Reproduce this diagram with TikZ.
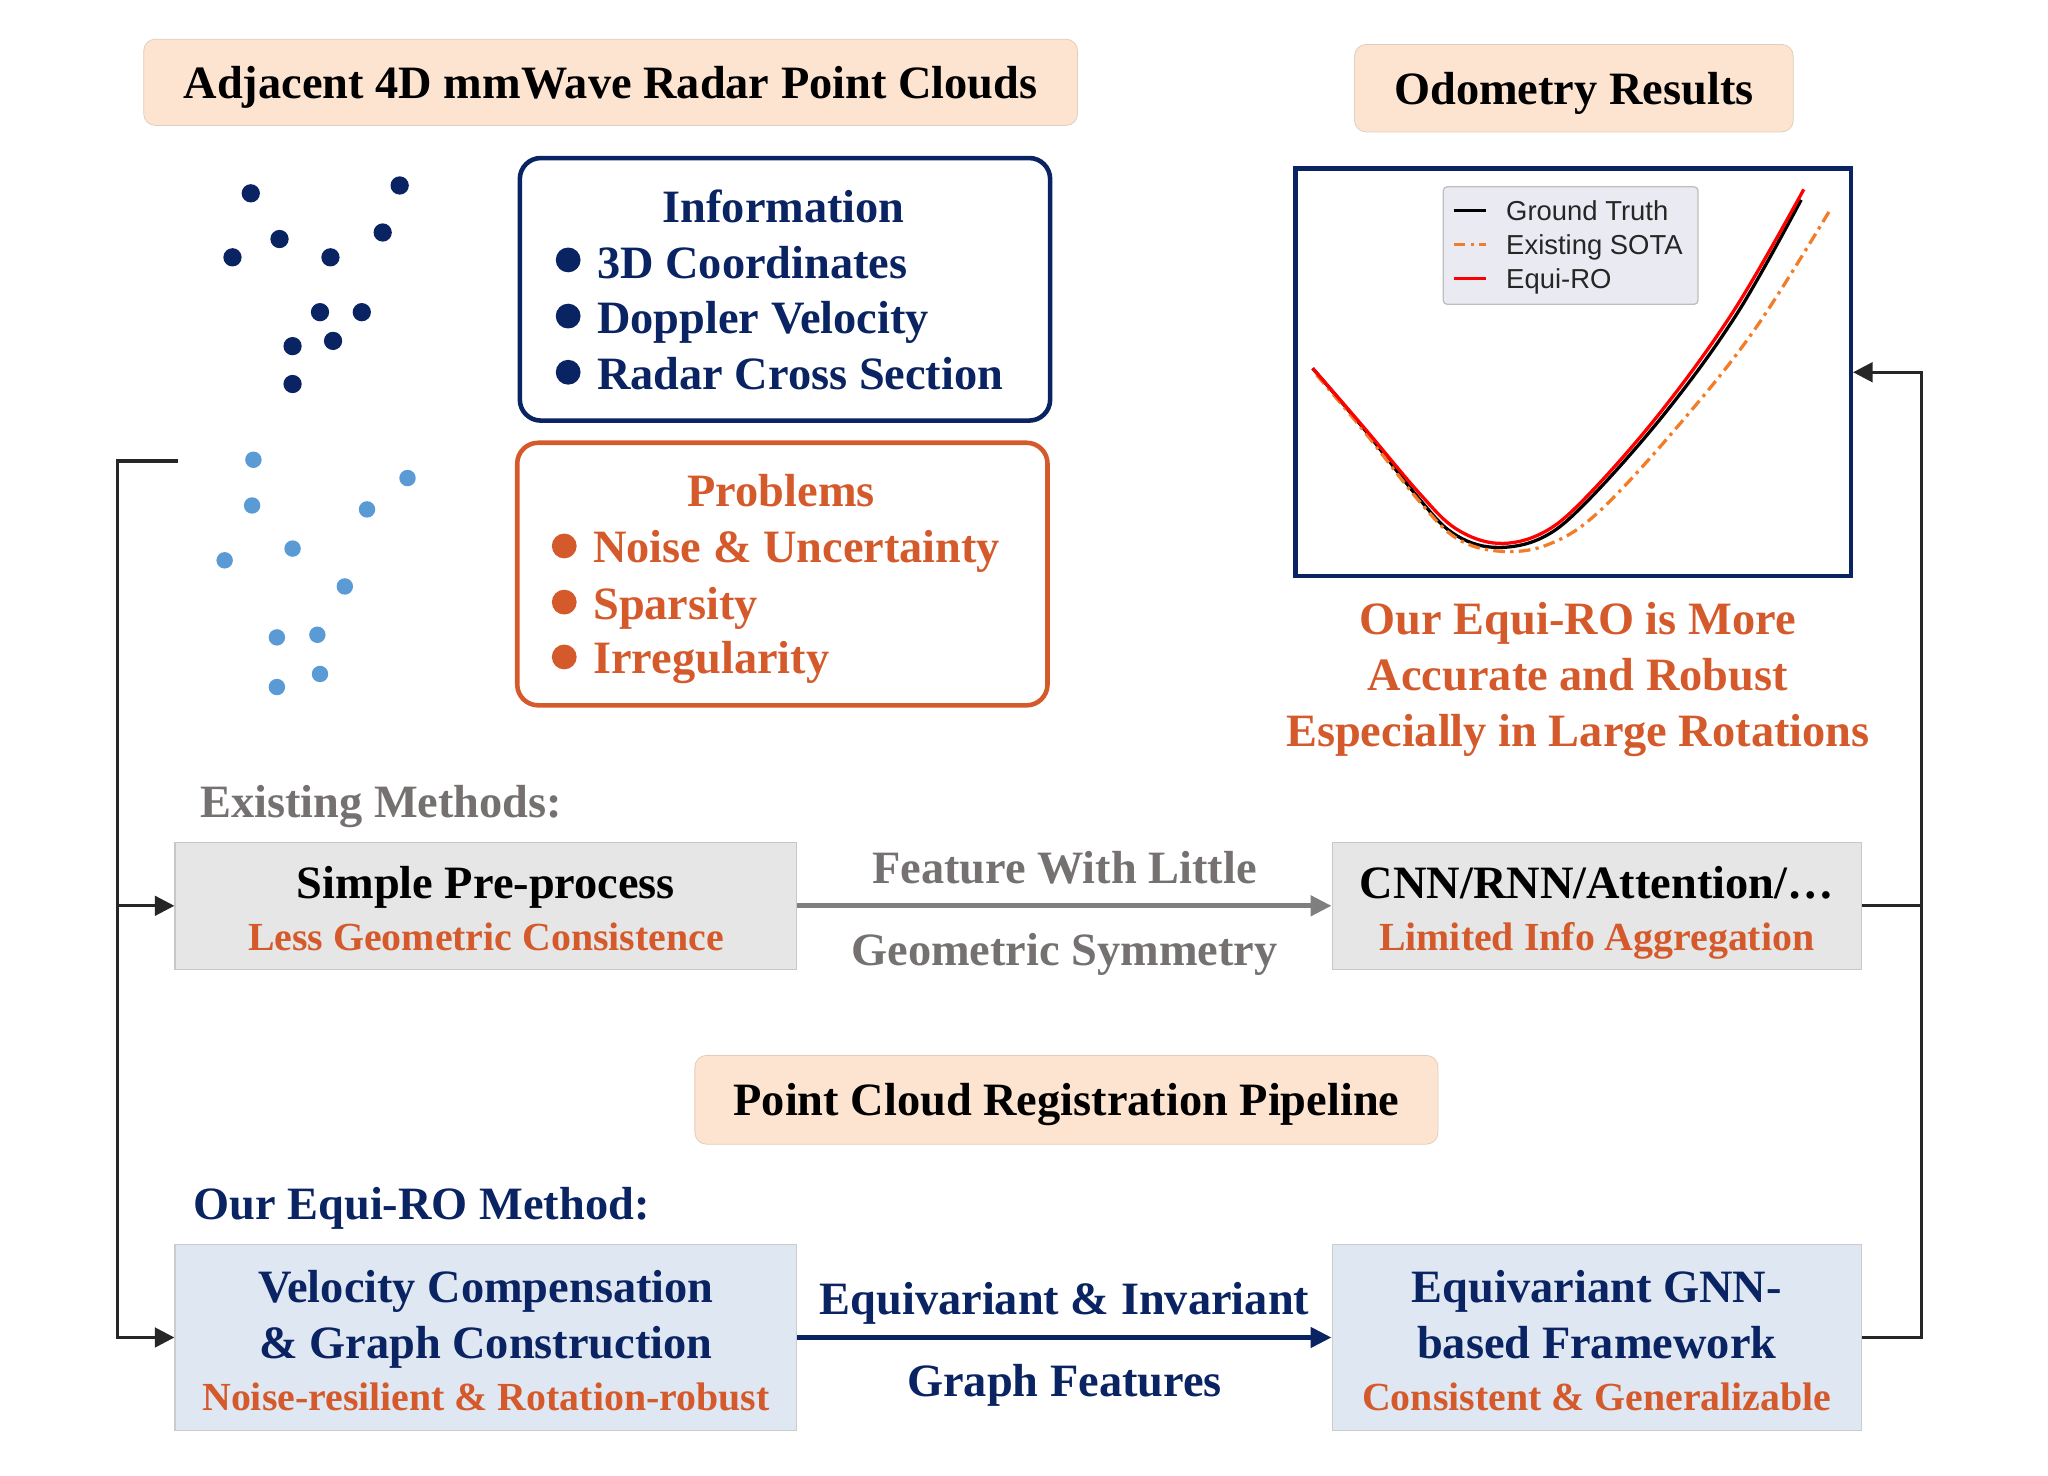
\documentclass[tikz,border=0pt]{standalone}
\usepackage{fontspec}
\setmainfont{Liberation Serif}
\newfontfamily\legendfont{Liberation Sans}
\usetikzlibrary{arrows.meta}

\definecolor{navy}{RGB}{10,36,99}
\definecolor{rust}{RGB}{213,90,43}
\definecolor{peach}{RGB}{252,228,208}
\definecolor{boxgray}{RGB}{230,230,230}
\definecolor{boxblue}{RGB}{223,231,242}
\definecolor{ptblue}{RGB}{91,155,213}
\definecolor{txtgray}{RGB}{118,113,113}
\definecolor{arrowgray}{RGB}{127,127,127}
\definecolor{linegray}{RGB}{38,38,38}
\definecolor{legbg}{RGB}{234,234,242}
\definecolor{sota}{RGB}{242,125,40}

\newcommand{\boxfont}{\fontsize{35.5}{43}\selectfont\bfseries}
\newcommand{\notefont}{\fontsize{30.5}{36}\selectfont\bfseries\color{rust}}
\newcommand{\topstrut}{\rule{0pt}{35.6pt}}

\tikzstyle{peachbox} = [fill=peach, draw=peach!90!black, line width=0.6pt, rounded corners=9pt, text depth=0pt, font=\boxfont]
\tikzstyle{graybox} = [fill=boxgray, draw=black!22, line width=1pt, align=center, font=\boxfont]
\tikzstyle{bluebox} = [fill=boxblue, draw=black!20, line width=1pt, align=center, font=\boxfont, text=navy]
\tikzstyle{listbox} = [line width=3.5pt, rounded corners=16pt]
\tikzstyle{listitem} = [anchor=base west, inner sep=0pt, font=\boxfont]
\tikzstyle{legtext} = [anchor=base west, inner sep=0pt, text=linegray, font=\legendfont\fontsize{21}{25}\selectfont]
\tikzstyle{flowlabel} = [midway, text depth=0pt, font=\boxfont]
\tikzstyle{flow} = [line width=4pt, -{Triangle[length=16pt,width=15pt]}]
\tikzstyle{conn} = [line width=2.5pt, draw=linegray, -{Triangle[length=15pt,width=15pt]}]
\tikzstyle{sotaline} = [sota, line width=2.5pt, dash pattern=on 9pt off 4pt on 2.5pt off 4pt]

\begin{document}
\begin{tikzpicture}[x=1pt, y=-1pt]
  \useasboundingbox (0,0) rectangle (1568,1130);

  % TITLES
  \node[peachbox, minimum width=715pt, minimum height=66pt] (cloudtitle) at (467.5,63) {Adjacent 4D mmWave Radar Point Clouds};
  \node[peachbox, minimum width=336pt, minimum height=67pt] (odomtitle) at (1205,67.5) {Odometry Results};
  \node[peachbox, minimum width=569pt, minimum height=68pt] (pipetitle) at (816.5,842) {Point Cloud Registration Pipeline};

  % POINT CLOUDS
  % first frame
  \fill[navy] (192,148) circle (7pt);
  \fill[navy] (306,142) circle (7pt);
  \fill[navy] (214,183) circle (7pt);
  \fill[navy] (293,178) circle (7pt);
  \fill[navy] (178,197) circle (7pt);
  \fill[navy] (253,197) circle (7pt);
  \fill[navy] (245,239) circle (7pt);
  \fill[navy] (277,239) circle (7pt);
  \fill[navy] (224,265) circle (7pt);
  \fill[navy] (255,261) circle (7pt);
  \fill[navy] (224,294) circle (7pt);
  % second frame
  \fill[ptblue] (194,352) circle (6.3pt);
  \fill[ptblue] (312,366) circle (6.3pt);
  \fill[ptblue] (193,387) circle (6.3pt);
  \fill[ptblue] (281,390) circle (6.3pt);
  \fill[ptblue] (172,429) circle (6.3pt);
  \fill[ptblue] (224,420) circle (6.3pt);
  \fill[ptblue] (264,449) circle (6.3pt);
  \fill[ptblue] (212,488) circle (6.3pt);
  \fill[ptblue] (243,486) circle (6.3pt);
  \fill[ptblue] (212,526) circle (6.3pt);
  \fill[ptblue] (245,516) circle (6.3pt);

  % INFORMATION BOX
  \node[listbox, draw=navy, minimum width=406pt, minimum height=201pt] (infobox) at (601,221.5) {};
  \node[text=navy, font=\boxfont] (infotitle) at (600,158) {Information};
  \fill[navy] (435,199) circle (9.5pt);
  \fill[navy] (435,242) circle (9.5pt);
  \fill[navy] (435,285) circle (9.5pt);
  \node[listitem, text=navy] (info1) at (457,213) {3D Coordinates};
  \node[listitem, text=navy] (info2) at (457,255) {Doppler Velocity};
  \node[listitem, text=navy] (info3) at (457,298) {Radar Cross Section};

  % PROBLEMS BOX
  \node[listbox, draw=rust, minimum width=406pt, minimum height=201pt] (probbox) at (599,439.5) {};
  \node[text=rust, font=\boxfont] (probtitle) at (598,376) {Problems};
  \fill[rust] (432,418) circle (9.5pt);
  \fill[rust] (432,461) circle (9.5pt);
  \fill[rust] (432,503) circle (9.5pt);
  \node[listitem, text=rust] (prob1) at (454,431) {Noise \& Uncertainty};
  \node[listitem, text=rust] (prob2) at (454,474) {Sparsity};
  \node[listitem, text=rust] (prob3) at (454,516) {Irregularity};

  % ODOMETRY PLOT
  \node[draw=navy, line width=3.5pt, minimum width=425pt, minimum height=312pt] (plotbox) at (1204.5,285) {};
  % ground truth
  \draw[black, line width=2.5pt] plot[smooth, tension=0.6] coordinates {(1005,282) (1044,328) (1085,380) (1112,408) (1143,419) (1180,412) (1215,384) (1275,316) (1330,240) (1379,153)};
  % existing sota
  \draw[sotaline] plot[smooth, tension=0.6] coordinates {(1008,287) (1045,331) (1086,383) (1115,412) (1148,422) (1185,417) (1225,391) (1290,320) (1345,250) (1401,161)};
  % equi-ro
  \draw[red, line width=2.5pt] plot[smooth, tension=0.6] coordinates {(1005,282) (1044,327) (1087,378) (1115,405) (1147,416) (1181,408) (1214,381) (1271,316) (1328,237) (1381,145)};
  % legend
  \node[fill=legbg, draw=black!25, line width=1pt, rounded corners=3pt, minimum width=195pt, minimum height=90pt] (legend) at (1202.5,188) {};
  \draw[black, line width=2.5pt] (1113,161) -- (1138,161);
  \draw[sotaline] (1113,187) -- (1138,187);
  \draw[red, line width=2.5pt] (1113,213) -- (1138,213);
  \node[legtext] (leg1) at (1153,168.5) {Ground Truth};
  \node[legtext] (leg2) at (1153,194.5) {Existing SOTA};
  \node[legtext] (leg3) at (1153,220.5) {Equi-RO};

  \node[text=rust, font=\boxfont, align=center] (resulttext) at (1208,520) {Our Equi-RO is More\\Accurate and Robust\\Especially in Large Rotations};

  % EXISTING METHODS
  \node[anchor=base west, inner sep=0pt, text=txtgray, font=\boxfont] (existlabel) at (153,626) {Existing Methods:};
  \node[graybox, minimum width=476pt, minimum height=97pt] (prebox) at (372,693.5) {\topstrut Simple Pre-process\\[-3pt]{\notefont\vphantom{g}Less Geometric Consistence}};
  \node[graybox, minimum width=405pt, minimum height=97pt] (cnnbox) at (1222.5,693.5) {\topstrut CNN/RNN/Attention/…\\[-3pt]{\notefont\vphantom{g}Limited Info Aggregation}};
  \draw[flow, arrowgray] (prebox) -- (cnnbox)
    node[flowlabel, above=12pt, text=txtgray] (featA) {Feature With Little}
    node[flowlabel, below=15.5pt, text=txtgray] (featB) {Geometric Symmetry};

  % OUR METHOD
  \node[anchor=base west, inner sep=0pt, text=navy, font=\boxfont] (ourlabel) at (148,934) {Our Equi-RO Method:};
  \node[bluebox, minimum width=476pt, minimum height=142pt] (velobox) at (372,1024) {\topstrut Velocity Compensation\\\& Graph Construction\\[-3pt]{\notefont\vphantom{g}Noise-resilient \& Rotation-robust}};
  \node[bluebox, minimum width=405pt, minimum height=142pt] (gnnbox) at (1222.5,1024) {\topstrut Equivariant GNN-\\based Framework\\[-3pt]{\notefont\vphantom{g}Consistent \& Generalizable}};
  \draw[flow, navy] (velobox) -- (gnnbox)
    node[flowlabel, above=12pt, text=navy] (graphA) {Equivariant \& Invariant}
    node[flowlabel, below=15.5pt, text=navy] (graphB) {Graph Features};

  % CONNECTORS
  \coordinate (cloudin) at (136,353);
  \coordinate (lbus) at (90,353);
  \coordinate (rbus) at (1471,285);
  % left side
  \draw[conn] (cloudin) -- (lbus) |- (velobox.west);
  \draw[conn] (lbus |- prebox.west) -- (prebox.west);
  % right side
  \draw[conn] (gnnbox.east) -| (rbus) -- (plotbox.east);
  \draw[line width=2.5pt, linegray] (cnnbox.east) -- (cnnbox.east -| rbus);
\end{tikzpicture}
\end{document}
